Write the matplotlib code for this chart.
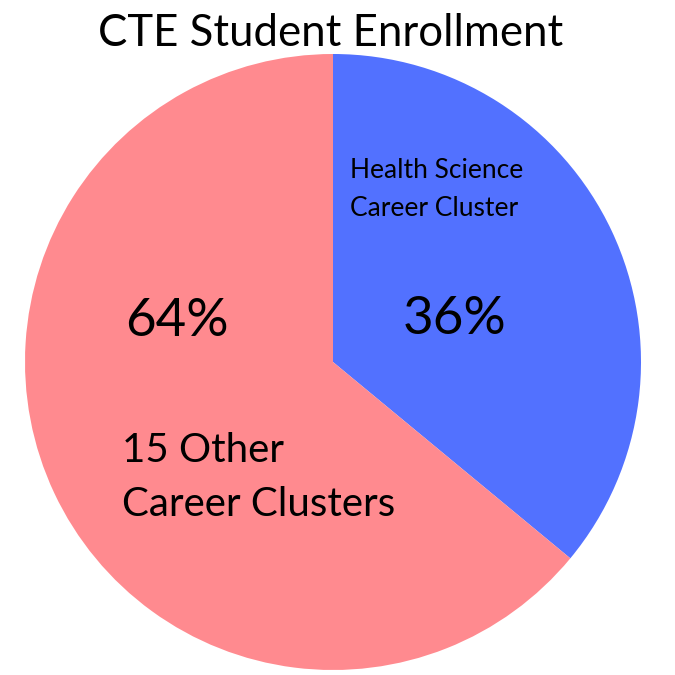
import matplotlib
matplotlib.use("Agg")
import matplotlib.pyplot as plt

labels = ["Health Science Career Cluster", "15 Other Career Clusters"]
values = [36, 64]
colors = ["#5271FF", "#FF8A8F"]

plt.rcParams['font.family'] = ['Lato', 'DejaVu Sans']
fig = plt.figure(figsize=(6.75, 6.75), dpi=100)
ax = fig.add_axes([0, 0, 1, 1])
H = 675
ax.pie(values, colors=colors, startangle=90, counterclock=False,
       center=(333, H - 362), radius=308, wedgeprops=dict(linewidth=0))
ax.set_xlim(0, 675); ax.set_ylim(0, 675)
ax.set_aspect('equal'); ax.axis('off')

ax.text(331, H - 33, "CTE Student Enrollment", ha='center', va='center', fontsize=31.5)
ax.text(455, H - 320, f"{values[0]}%", ha='center', va='center', fontsize=38)
ax.text(177, H - 322, f"{values[1]}%", ha='center', va='center', fontsize=38)
ax.text(350, H - 170, "Health Science", ha='left', va='center', fontsize=19)
ax.text(350, H - 208, "Career Cluster", ha='left', va='center', fontsize=19)
ax.text(122, H - 450, "15 Other", ha='left', va='center', fontsize=29)
ax.text(122, H - 505, "Career Clusters", ha='left', va='center', fontsize=29)
fig.savefig("out.png", dpi=100)
